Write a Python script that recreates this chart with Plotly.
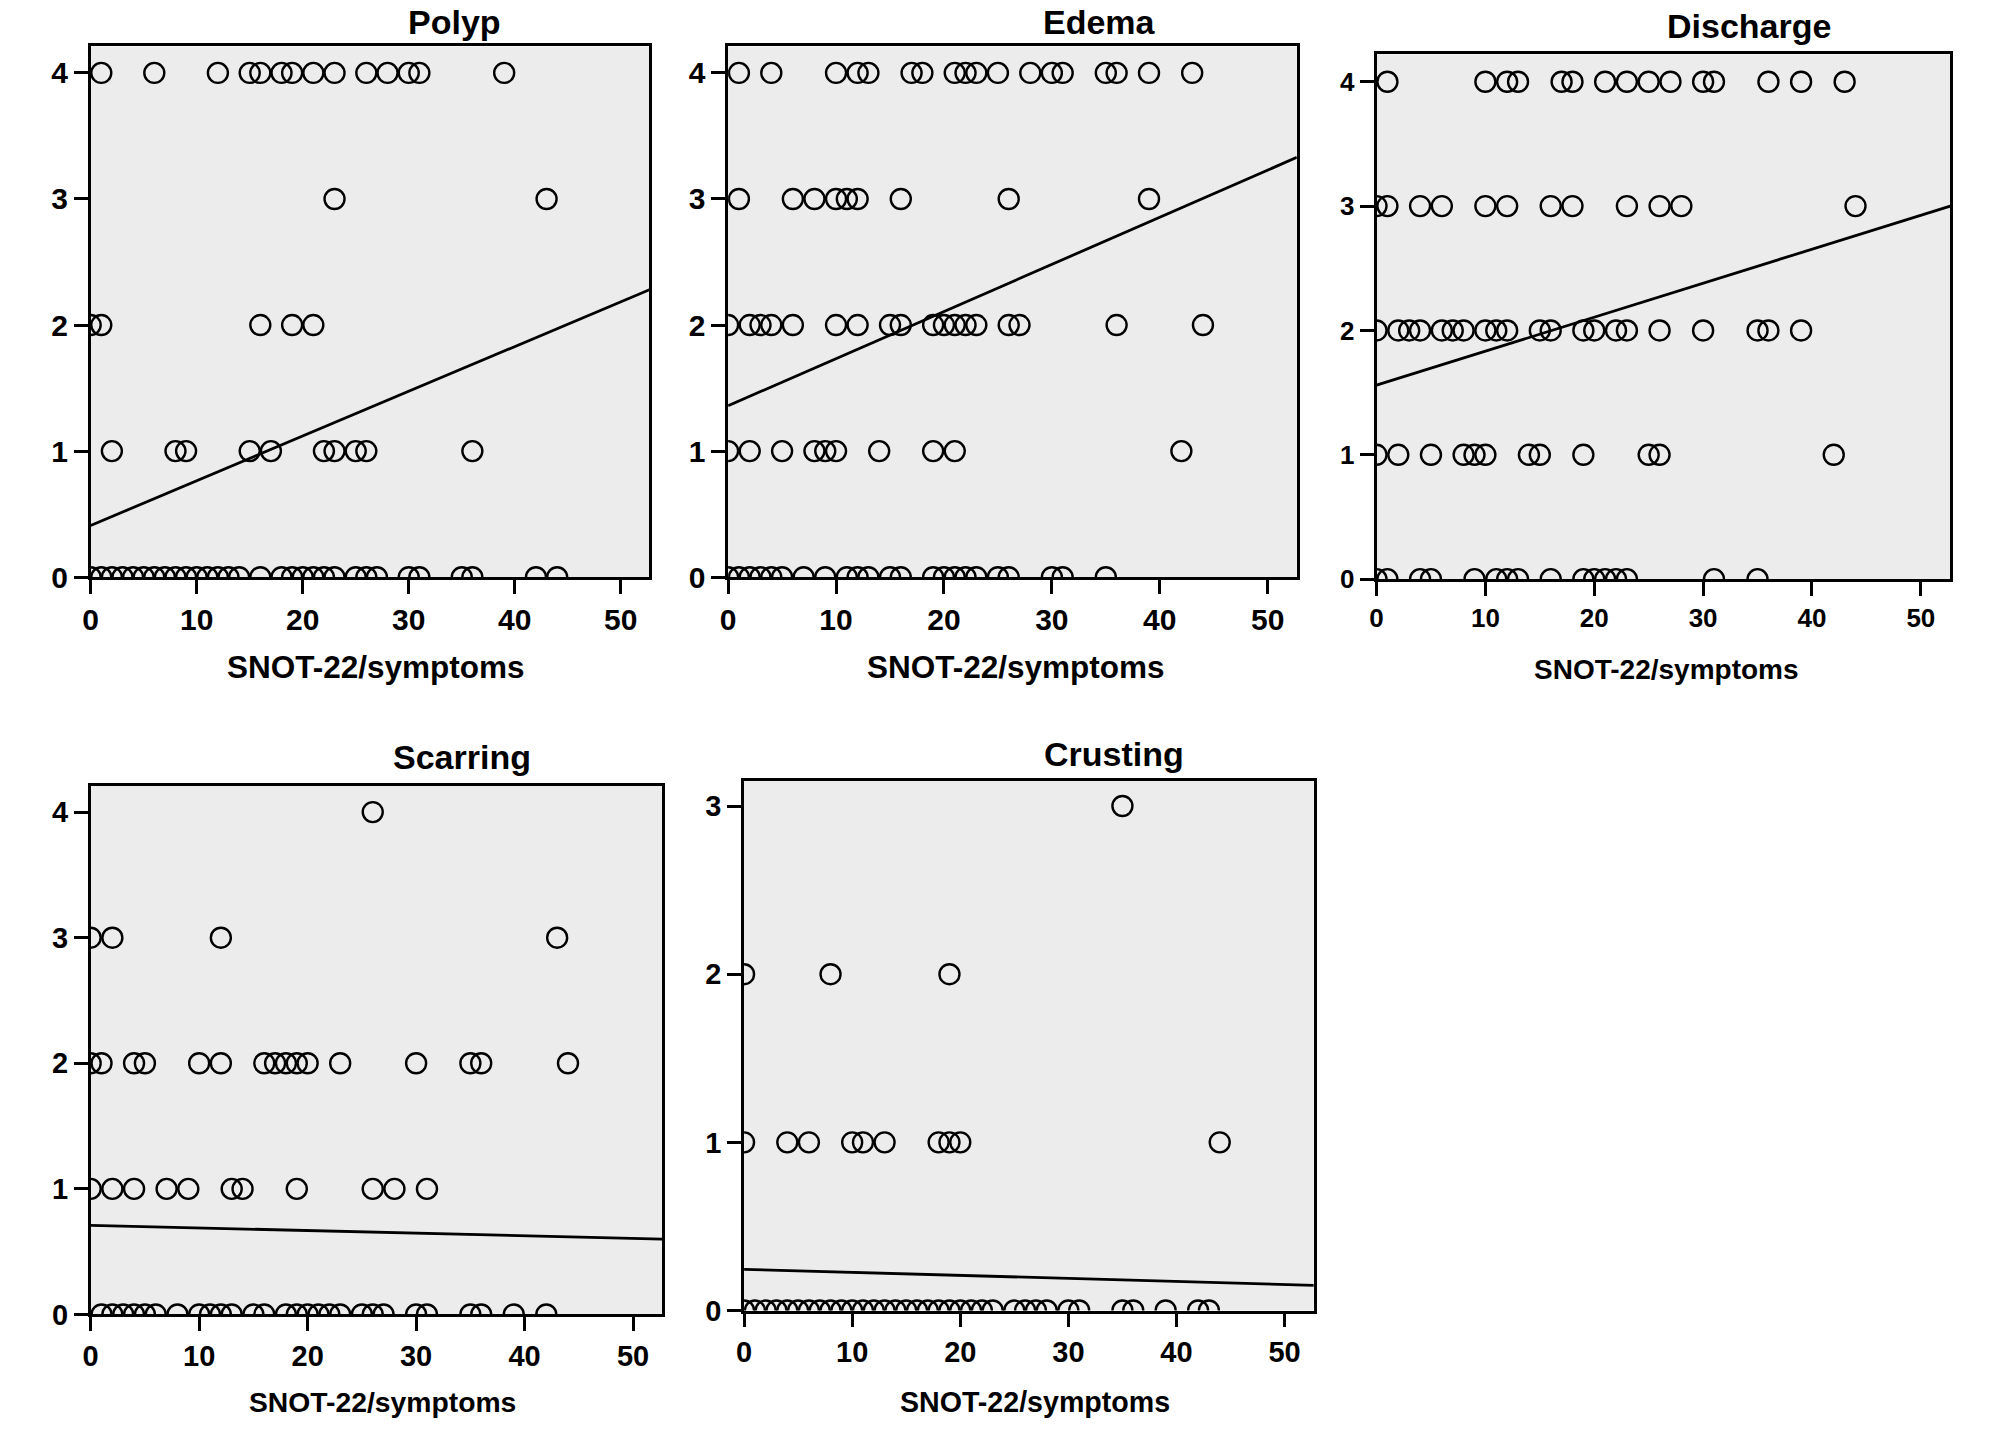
import plotly.graph_objects as go

# ---------------- data (x = SNOT-22/symptoms score, grouped by grade) ----------------
panel_names = ["Polyp", "Edema", "Discharge", "Scarring", "Crusting"]
x_label = "SNOT-22/symptoms"
x_ticks = [0, 10, 20, 30, 40, 50]

polyp_4 = [1, 6, 12, 15, 16, 18, 19, 21, 23, 26, 28, 30, 31, 39]
polyp_3 = [23, 43]
polyp_2 = [0, 1, 16, 19, 21]
polyp_1 = [2, 8, 9, 15, 17, 22, 23, 25, 26, 36]
polyp_0 = [0, 1, 2, 3, 4, 5, 6, 7, 8, 9, 10, 11, 12, 13, 14, 16, 18, 19, 20, 21, 22, 23,
           25, 26, 27, 30, 31, 35, 36, 42, 44]

edema_4 = [1, 4, 10, 12, 13, 17, 18, 21, 22, 23, 25, 28, 30, 31, 35, 36, 39, 43]
edema_3 = [1, 6, 8, 10, 11, 12, 16, 26, 39]
edema_2 = [0, 2, 3, 4, 6, 10, 12, 15, 16, 19, 20, 21, 22, 23, 26, 27, 36, 44]
edema_1 = [0, 2, 5, 8, 9, 10, 14, 19, 21, 42]
edema_0 = [0, 1, 2, 3, 4, 5, 7, 9, 11, 12, 13, 15, 16, 19, 20, 21, 22, 23, 25, 26, 30, 31, 35]

discharge_4 = [1, 10, 12, 13, 17, 18, 21, 23, 25, 27, 30, 31, 36, 39, 43]
discharge_3 = [0, 1, 4, 6, 10, 12, 16, 18, 23, 26, 28, 44]
discharge_2 = [0, 2, 3, 4, 6, 7, 8, 10, 11, 12, 15, 16, 19, 20, 22, 23, 26, 30, 35, 36, 39]
discharge_1 = [0, 2, 5, 8, 9, 10, 14, 15, 19, 25, 26, 42]
discharge_0 = [0, 1, 4, 5, 9, 11, 12, 13, 16, 19, 20, 21, 22, 23, 31, 35]

scarring_4 = [26]
scarring_3 = [0, 2, 12, 43]
scarring_2 = [0, 1, 4, 5, 10, 12, 16, 17, 18, 19, 20, 23, 30, 35, 36, 44]
scarring_1 = [0, 2, 4, 7, 9, 13, 14, 19, 26, 28, 31]
scarring_0 = [1, 2, 3, 4, 5, 6, 8, 10, 11, 12, 13, 15, 16, 18, 19, 20, 21, 22, 23, 25, 26,
              27, 30, 31, 35, 36, 39, 42]

crusting_3 = [35]
crusting_2 = [0, 8, 19]
crusting_1 = [0, 4, 6, 10, 11, 13, 18, 19, 20, 44]
crusting_0 = [0, 1, 2, 3, 4, 5, 6, 7, 8, 9, 10, 11, 12, 13, 14, 15, 16, 17, 18, 19, 20, 21,
              22, 23, 25, 26, 27, 28, 30, 31, 35, 36, 39, 42, 43]

# fitted line: grade at x = 0 and at the right edge of the axis
fit_start = [0.41, 1.36, 1.56, 0.71, 0.245]
fit_end = [2.28, 3.33, 3.00, 0.60, 0.15]
x_max = 52.7
y_max = [4.21, 4.21, 4.22, 4.21, 3.15]
y_ticks = [[0, 1, 2, 3, 4]] * 4 + [[0, 1, 2, 3]]

grades = {
    "Polyp": {4: polyp_4, 3: polyp_3, 2: polyp_2, 1: polyp_1, 0: polyp_0},
    "Edema": {4: edema_4, 3: edema_3, 2: edema_2, 1: edema_1, 0: edema_0},
    "Discharge": {4: discharge_4, 3: discharge_3, 2: discharge_2, 1: discharge_1, 0: discharge_0},
    "Scarring": {4: scarring_4, 3: scarring_3, 2: scarring_2, 1: scarring_1, 0: scarring_0},
    "Crusting": {3: crusting_3, 2: crusting_2, 1: crusting_1, 0: crusting_0},
}

# ---------------- layout (pixels in a 2008 x 1456 page) ----------------
W, H = 2008, 1456
# left, right, top, bottom of each plot area
boxes = [
    (83, 644, 47, 584),
    (723, 1294, 47, 584),
    (1374, 1950, 55, 586),
    (83, 657, 795, 1330),
    (739, 1311, 790, 1326),
]
title_pos = [(448, 22), (1096, 22), (1748, 26), (456, 766), (1110, 763)]
xlabel_pos = [(369, 675), (1012, 675), (1665, 677), (376, 1419), (1031, 1419)]
xlabel_size = [31.5, 31.5, 28, 28.3, 28.6]
tick_size = [30, 30, 26, 29, 29]

FONT = "Liberation Sans, Arial, sans-serif"

fig = go.Figure()
layout = dict(
    width=W, height=H,
    margin=dict(l=0, r=0, t=0, b=0),
    paper_bgcolor="white",
    plot_bgcolor="#ececec",
    showlegend=False,
    font=dict(family=FONT, color="black"),
)
annotations = []

for i, name in enumerate(panel_names):
    n = i + 1
    xa = "x" if n == 1 else f"x{n}"
    ya = "y" if n == 1 else f"y{n}"
    xs, ys = [], []
    for g, vals in grades[name].items():
        xs += vals
        ys += [g] * len(vals)
    fig.add_trace(go.Scatter(
        x=xs, y=ys, mode="markers", xaxis=xa, yaxis=ya,
        marker=dict(symbol="circle-open", size=20, color="black", line=dict(width=2.4, color="black")),
        hoverinfo="x+y",
    ))
    fig.add_trace(go.Scatter(
        x=[0, x_max], y=[fit_start[i], fit_end[i]], mode="lines", xaxis=xa, yaxis=ya,
        line=dict(color="black", width=2.8),
    ))
    l, r, t, b = boxes[i]
    common = dict(
        showline=True, mirror=True, linecolor="black", linewidth=2.5,
        showgrid=False, zeroline=False,
        ticks="outside", ticklen=14, tickwidth=3, tickcolor="black",
        tickfont=dict(family=FONT, size=tick_size[i], color="black", weight="bold"),
    )
    layout[f"xaxis{'' if n == 1 else n}"] = dict(
        domain=[l / W, r / W], anchor=ya, range=[0, x_max],
        tickvals=x_ticks, ticklabelstandoff=0, **common)
    layout[f"yaxis{'' if n == 1 else n}"] = dict(
        domain=[1 - b / H, 1 - t / H], anchor=xa, range=[0, y_max[i]],
        tickvals=y_ticks[i], ticklabelstandoff=0, **common)
    tx, ty = title_pos[i]
    annotations.append(dict(
        text=f"<b>{name}</b>", x=tx / W, y=1 - ty / H, xref="paper", yref="paper",
        showarrow=False, xanchor="center", yanchor="middle",
        font=dict(family=FONT, size=34, color="black")))
    lx, ly = xlabel_pos[i]
    annotations.append(dict(
        text=f"<b>{x_label}</b>", x=lx / W, y=1 - ly / H, xref="paper", yref="paper",
        showarrow=False, xanchor="center", yanchor="middle",
        font=dict(family=FONT, size=xlabel_size[i], color="black")))

layout["annotations"] = annotations
fig.update_layout(**layout)
fig.write_html("out.html")
